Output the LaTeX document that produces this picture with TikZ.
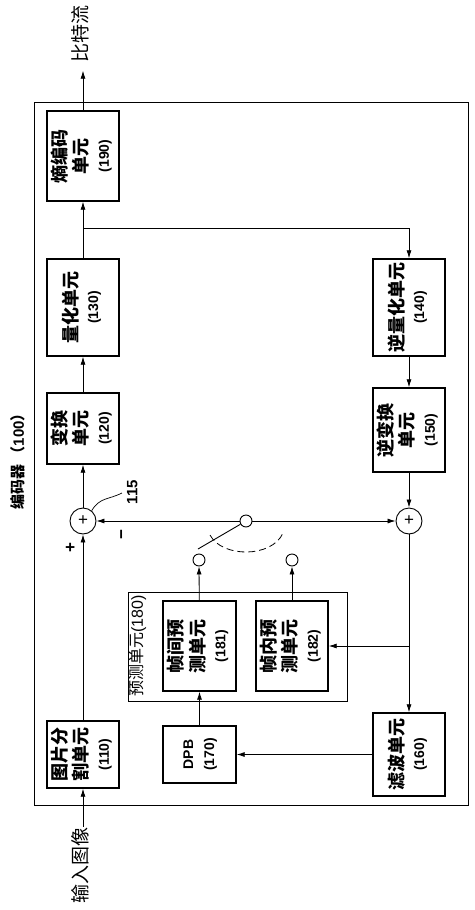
\documentclass[tikz,border=0pt]{standalone}
\usepackage{fontspec}
\setmainfont{Noto Sans CJK SC}
\newfontfamily\numfont{Liberation Sans}
\usepackage{graphicx}
\usetikzlibrary{arrows.meta}

\newcommand{\vtext}[1]{\rotatebox{90}{\begin{tabular}{@{}c@{}}#1\end{tabular}}}
\newcommand{\unitno}[1]{{\numfont\fontsize{14}{16}\selectfont #1}}

\tikzset{
	unit/.style={draw,line width=1.4pt,inner sep=0pt,minimum width=72pt,font=\fontsize{18}{21}\selectfont\bfseries},
	adder/.style={draw,circle,line width=0.9pt,minimum size=26pt,inner sep=0pt,font=\numfont\fontsize{17}{19}\selectfont},
	contact/.style={draw,circle,line width=0.9pt,minimum size=12pt,inner sep=0pt},
	flow/.style={line width=0.8pt,-{Latex[length=8pt,width=5pt]}},
	vlabel/.style={inner sep=0pt}
}

\begin{document}
\begin{tikzpicture}[x=1pt,y=-1pt]
	\useasboundingbox (0,0) rectangle (474,910);
	% encoder frame
	\draw[line width=1pt] (34,102) rectangle (468,805);
	\node[vlabel,font=\fontsize{15}{17}\selectfont\bfseries] (enc) at (20,458) {\vtext{编码器 （{\numfont 100}）}};
	% units
	\node[unit,minimum height=90pt] (ent) at (83,156) {\vtext{熵编码\\单元\\\unitno{(190)}}};
	\node[unit,minimum height=97pt] (quant) at (83,307.5) {\vtext{量化单元\\\unitno{(130)}}};
	\node[unit,minimum height=71pt] (trans) at (83,428.5) {\vtext{变换\\单元\\\unitno{(120)}}};
	\node[unit,minimum height=67pt] (split) at (83,754.5) {\vtext{图片分\\割单元\\\unitno{(110)}}};
	\node[unit,minimum height=97pt] (iquant) at (409,307.5) {\vtext{逆量化单元\\\unitno{(140)}}};
	\node[unit,minimum height=84pt] (itrans) at (409,430) {\vtext{逆变换\\单元\\\unitno{(150)}}};
	\node[unit,minimum height=83pt] (filter) at (409,754.5) {\vtext{滤波单元\\\unitno{(160)}}};
	% prediction unit
	\node[draw,line width=1pt,minimum width=219pt,minimum height=109pt] (pred) at (237.5,646.5) {};
	\node[vlabel,font=\fontsize{16}{18}\selectfont] (predlbl) at (139,646) {\vtext{预测单元{\numfont(180)}}};
	\node[unit,minimum width=73pt,minimum height=90pt] (inter) at (199.5,646) {\vtext{帧间预\\测单元\\\unitno{(181)}}};
	\node[unit,minimum height=90pt] (intra) at (292,646) {\vtext{帧内预\\测单元\\\unitno{(182)}}};
	\node[unit,minimum width=73pt,minimum height=57pt] (dpb) at (199.5,754.5) {\vtext{\unitno{DPB}\\\unitno{(170)}}};
	% adders and switch
	\node[adder] (sub) at (83,521) {+};
	\node[adder] (add) at (409,521) {+};
	\node[contact] (pivot) at (246,521) {};
	\node[contact] (cinter) at (199,560) {};
	\node[contact] (cintra) at (292,560) {};
	\coordinate (arm) at (198,549);
	\coordinate (fork) at (83,228);
	% in and out
	\node[vlabel,font=\fontsize{19}{21}\selectfont] (bits) at (83,34) {\vtext{比特流}};
	\node[vlabel,font=\fontsize{19}{21}\selectfont] (input) at (83,865) {\vtext{输入图像}};
	% signs
	\node[vlabel,font=\numfont\fontsize{17}{19}\selectfont\bfseries] (plus) at (72,548) {\vtext{+}};
	\node[vlabel,font=\numfont\fontsize{17}{19}\selectfont\bfseries] (minus) at (123,535) {\vtext{−}};
	\node[vlabel,font=\numfont\fontsize{15}{17}\selectfont\bfseries] (ref) at (134,492) {\vtext{115}};
	\draw[line width=0.7pt] (sub.50) .. controls (100,497) and (108,500) .. (122,493);
	% connectors
	\draw[flow,shorten >=8pt] (ent) -- (bits);
	\draw[flow] (quant) -- (ent);
	\draw[flow] (fork) -| (iquant);
	\draw[flow] (trans) -- (quant);
	\draw[flow] (sub) -- (trans);
	\draw[flow] (split) -- (sub);
	\draw[flow] (input) -- (split);
	\draw[flow] (iquant) -- (itrans);
	\draw[flow] (itrans) -- (add);
	\draw[flow] (pivot) -- (sub);
	\draw[flow] (pivot) -- (add);
	\draw[line width=0.9pt] (pivot) -- (arm);
	\draw[dash pattern=on 7pt off 4pt,line width=0.8pt] (210,535) .. controls (222,558) and (272,558) .. (283,533);
	\draw[flow] (add) -- (filter);
	\draw[flow] (add |- intra) -- (intra);
	\draw[flow] (filter) -- (dpb);
	\draw[flow] (dpb) -- (inter);
	\draw[flow] (inter) -- (cinter);
	\draw[flow] (intra) -- (cintra);
\end{tikzpicture}
\end{document}
